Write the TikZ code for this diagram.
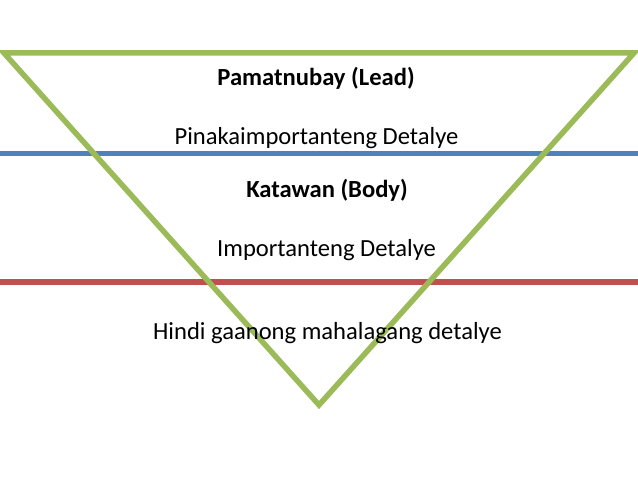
\documentclass[tikz,border=0pt]{standalone}
\usepackage{fontspec}
\setmainfont{Carlito}
\definecolor{pyrgreen}{HTML}{9BBB59}
\definecolor{pyrblue}{HTML}{4F81BD}
\definecolor{pyrred}{HTML}{C0504D}
\begin{document}
\begin{tikzpicture}[x=1pt, y=-1pt,
		lbl/.style={anchor=base, inner sep=0pt, font=\fontsize{24.6}{29}\selectfont}]
			\useasboundingbox (0, 0) rectangle (638, 478);

			\coordinate (tl) at (4, 53);
			\coordinate (tr) at (634, 53);
			\coordinate (apex) at (319, 405);
			\draw [pyrred, line width=5.5pt] (0, 282) -- (638, 282);
			\draw [pyrblue, line width=5pt] (0, 154) -- (638, 154);
			\draw [pyrgreen, line width=5.5pt] (tl) -- (tr) -- (apex) -- cycle;

			\node (lead) [lbl] at (316, 86) {\bfseries Pamatnubay (Lead)};
			\node (leadinfo) [lbl] at (316.5, 145) {Pinakaimportanteng Detalye};
			\node (body) [lbl] at (327, 198) {\bfseries Katawan (Body)};
			\node (bodyinfo) [lbl] at (326.5, 257) {Importanteng Detalye};
			\node (rest) [lbl] at (327.5, 340) {Hindi gaanong mahalagang detalye};
		\end{tikzpicture}
\end{document}
